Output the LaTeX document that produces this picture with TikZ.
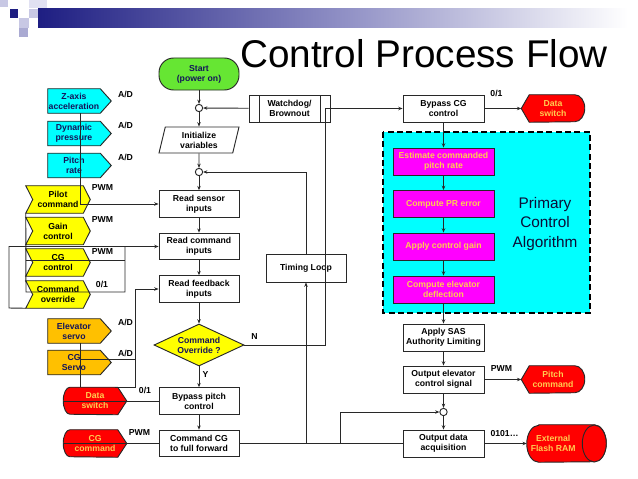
\documentclass[tikz,border=0pt]{standalone}
\usepackage{fontspec}
\setmainfont{Liberation Sans}
\usetikzlibrary{shapes.geometric,arrows.meta,calc}
\pgfdeclarelayer{background}
\pgfsetlayers{background,main}
\definecolor{navy}{RGB}{20,20,90}
\definecolor{startgreen}{RGB}{102,230,51}
\definecolor{servo}{RGB}{255,192,0}
\definecolor{otxt}{RGB}{255,204,80}
\definecolor{bord}{RGB}{40,40,40}
\definecolor{barblue}{RGB}{30,30,130}
\definecolor{barmid}{RGB}{140,140,195}
\definecolor{sqa}{RGB}{200,200,228}
\definecolor{sqb}{RGB}{225,225,242}
\definecolor{sqc}{RGB}{170,170,210}
\definecolor{cya}{RGB}{0,255,255}
\definecolor{mage}{RGB}{255,0,255}
\definecolor{yel}{RGB}{255,255,0}
\definecolor{rd}{RGB}{255,0,0}
\begin{document}
\begin{tikzpicture}[x=0.75pt,y=-0.75pt,
  txt/.style={font=\fontsize{6.5}{7.5}\selectfont\bfseries, align=center, inner sep=0pt},
  proc/.style={txt, draw=bord, fill=white, line width=0.7pt, minimum width=60pt, minimum height=20pt},
  mag/.style={txt, draw=bord, fill=mage, text=otxt, line width=0.7pt, minimum width=75.75pt, minimum height=20.25pt},
  junc/.style={circle, draw=bord, fill=white, line width=0.7pt, minimum size=5.5pt, inner sep=0pt},
  arr/.style={line width=0.7pt, draw=bord, -{Stealth[length=3.2pt,width=2.6pt]}},
  conn/.style={line width=0.7pt, draw=bord},
  lbl/.style={txt, text=black},
  bodytag/.style={txt, text=navy, minimum width=39pt, minimum height=18pt},
  ytag/.style={txt, text=black, minimum width=37.5pt, minimum height=20.25pt},
  rtag/.style={txt, text=otxt, minimum width=47.25pt, minimum height=20.25pt},
  shapeline/.style={draw=bord, line width=0.7pt},
  wdbox/.style={proc, minimum width=60.75pt, minimum height=20.25pt,
    path picture={\draw[line width=0.7pt,bord]
      ([xshift=7.5pt]path picture bounding box.north west) -- ([xshift=7.5pt]path picture bounding box.south west)
      ([xshift=-7.5pt]path picture bounding box.north east) -- ([xshift=-7.5pt]path picture bounding box.south east);}}
]
\useasboundingbox (0,0) rectangle (638,478);

% header decoration
\fill[sqa] (0,0) rectangle (8,7);
\fill[sqb] (29,0) rectangle (47,8);
\fill[barblue] (10,9) rectangle (18,18);
\fill[sqa] (29,9) rectangle (38,18);
\fill[sqa] (19,18) rectangle (29,28);
\fill[sqc] (19,28) rectangle (28,37);
\shade[left color=barblue, right color=white, middle color=barmid] (38,9) rectangle (628,28);

\node[font=\fontsize{29}{32}\selectfont, anchor=base west, inner sep=0pt] (title) at (240,68) {Control Process Flow};

% cyan container
\draw[fill=cya, draw=black, line width=1.4pt, dash pattern=on 4.5pt off 2.5pt] (383,132) rectangle (590,313);

% central column
\node[txt, draw=bord, fill=startgreen, rounded corners=11pt, minimum width=60pt, minimum height=24pt, text=navy, line width=0.7pt] (start) at (199,74) {Start\\(power on)};
\node[junc] (j1) at (199,108) {};
\node[wdbox] (wd) at (289.5,108.5) {Watchdog/\\Brownout};
\node[txt, trapezium, trapezium left angle=69, trapezium right angle=111, trapezium stretches body, draw=bord, fill=white, line width=0.7pt, minimum width=60pt, minimum height=19.5pt] (init) at (199,140) {Initialize\\variables};
\node[junc] (j2) at (199,172) {};
\node[proc] (rs) at (199,204) {Read sensor\\inputs};
\node[proc] (rc) at (199,246.5) {Read command\\inputs};
\node[proc] (rf) at (199,289) {Read feedback\\inputs};
\node[txt, diamond, aspect=2.1, draw=bord, fill=yel, line width=0.7pt, minimum width=67.5pt, minimum height=31.5pt, text=navy] (dia) at (199,345) {Command\\Override ?};
\node[proc] (bp) at (199,401) {Bypass pitch\\control};
\node[proc] (ccg) at (199,443.5) {Command CG\\to full forward};
\node[proc, minimum height=21pt] (tl) at (306,268) {Timing Loop};

% right column
\node[proc, minimum width=60.75pt, minimum height=20.25pt] (bcg) at (443.5,108.5) {Bypass CG\\control};
\node[rtag] (ds1) at (553,108.5) {Data\\switch};
\node[mag] (est) at (443.5,161.5) {Estimate commanded\\pitch rate};
\node[mag] (cpr) at (443.5,204) {Compute PR error};
\node[mag] (acg) at (443.5,246.5) {Apply control gain};
\node[mag] (ced) at (443.5,289.5) {Compute elevator\\deflection};
\node[font=\fontsize{11.5}{14.4}\selectfont, align=center, inner sep=0pt, text=navy!60!black] (pca) at (545,224) {Primary\\Control\\Algorithm};
\node[proc, minimum width=60.75pt, minimum height=20.25pt] (sas) at (443.5,337.5) {Apply SAS\\Authority Limiting};
\node[proc, minimum width=60.75pt, minimum height=20.25pt] (oec) at (443.5,379.5) {Output elevator\\control signal};
\node[junc] (j3) at (443.5,412) {};
\node[proc, minimum width=60.75pt, minimum height=20.25pt] (oda) at (443.5,443.5) {Output data\\acquisition};
\node[rtag] (pc) at (553,379.5) {Pitch\\command};
\node[minimum width=59.25pt, minimum height=27.75pt, inner sep=0pt] (ram) at (566.5,443.5) {};
\node[txt, text=otxt] (ramtxt) at ([xshift=-10pt]ram.center) {External\\Flash RAM};

% left inputs
\node[bodytag] (za) at (74,101) {Z-axis\\acceleration};
\node[bodytag] (dp) at (74,133.5) {Dynamic\\pressure};
\node[bodytag] (pr) at (74,165.5) {Pitch\\rate};
\node[ytag] (pcmd) at (58,199.5) {Pilot\\command};
\node[ytag] (gc) at (58,231) {Gain\\control};
\node[ytag] (cgc) at (58,262.5) {CG\\control};
\node[ytag] (co) at (58,294.5) {Command\\override};
\node[bodytag] (es) at (74,331) {Elevator\\servo};
\node[bodytag] (cgs) at (74,362.5) {CG\\Servo};
\node[rtag] (ds2) at (95,401) {Data\\switch};
\node[rtag] (cgcmd) at (95,443.5) {CG\\command};

% shape outlines behind the texts
\begin{pgfonlayer}{background}
\foreach \n in {za,dp,pr} {
  \path[fill=cya, shapeline] (\n.north west) -- (\n.north east) -- ([xshift=8.25pt]\n.east) -- (\n.south east) -- (\n.south west) -- cycle;
}
\foreach \n in {es,cgs} {
  \path[fill=servo, shapeline] (\n.north west) -- (\n.north east) -- ([xshift=8.25pt]\n.east) -- (\n.south east) -- (\n.south west) -- cycle;
}
\foreach \n in {pcmd,gc,cgc,co} {
  \path[fill=yel, shapeline] ([xshift=-5.25pt]\n.north west) -- (\n.north east) -- ([xshift=5.25pt]\n.east) -- (\n.south east) -- ([xshift=-5.25pt]\n.south west) -- (\n.west) -- cycle;
}
\foreach \n in {ds1,pc} {
  \path[fill=rd, shapeline] (\n.west) -- ([xshift=6pt]\n.north west) -- ([xshift=-7.5pt]\n.north east)
    arc[start angle=90,end angle=-90,x radius=7.5pt,y radius=10.125pt] -- ([xshift=6pt]\n.south west) -- cycle;
}
\foreach \n in {ds2,cgcmd} {
  \path[fill=rd, shapeline] (\n.east) -- ([xshift=-6.75pt]\n.north east) -- ([xshift=5pt]\n.north west)
    arc[start angle=90,end angle=270,x radius=5pt,y radius=10.125pt] -- ([xshift=-6.75pt]\n.south east) -- cycle;
}
\path[fill=rd, shapeline] ([xshift=9pt]ram.north west) -- ([xshift=-9pt]ram.north east)
  arc[start angle=90,end angle=-90,x radius=9pt,y radius=13.875pt] -- ([xshift=9pt]ram.south west)
  arc[start angle=270,end angle=90,x radius=9pt,y radius=13.875pt] -- cycle;
\path[fill=rd, shapeline] ([xshift=-9pt]ram.east) ellipse [x radius=9pt, y radius=13.875pt];
\end{pgfonlayer}

% labels
\node[lbl] (l1) at (125.5,94) {A/D};
\node[lbl] (l2) at (125.5,125) {A/D};
\node[lbl] (l3) at (125.5,157) {A/D};
\node[lbl] (l4) at (102.5,188) {PWM};
\node[lbl] (l5) at (102.5,220) {PWM};
\node[lbl] (l6) at (102.5,252) {PWM};
\node[lbl] (l7) at (102,284) {0/1};
\node[lbl] (l8) at (125.5,322) {A/D};
\node[lbl] (l9) at (125.5,353) {A/D};
\node[lbl] (l10) at (145,390) {0/1};
\node[lbl] (l11) at (139.5,433) {PWM};
\node[lbl] (l12) at (496.5,93) {0/1};
\node[lbl] (l13) at (501.5,369) {PWM};
\node[lbl] (l14) at (504.5,434) {0101\ldots};
\node[lbl] (ly) at (205.5,375) {Y};
\node[lbl] (ln) at (254.5,337) {N};

% central connectors
\draw[arr] (start) -- (j1);
\draw[arr] (j1) -- (init);
\draw[arr] (wd) -- (j1);
\draw[arr] (init) -- (j2);
\draw[arr] (j2) -- (rs);
\draw[arr] (tl.north) |- (j2);
\draw[arr] (rs) -- (rc);
\draw[arr] (rc) -- (rf);
\draw[arr] (rf) -- (dia);
\draw[arr] (dia) -- (bp);
\draw[arr] (bp) -- (ccg);
\coordinate (nx) at (325,0);
\draw[arr] (dia.east) -| (nx |- bcg.west) -- (bcg.west);
\draw[conn] (ccg.east) -- (oda.west);
\draw[arr] (tl.south |- ccg.east) -- (tl.south);
\coordinate (bx) at (340,0);
\draw[arr] (bx |- ccg.east) |- (j3);

% right connectors
\draw[arr] (bcg.east) -- (ds1.west);
\draw[arr] (bcg) -- (est);
\draw[arr] (est) -- (cpr);
\draw[arr] (cpr) -- (acg);
\draw[arr] (acg) -- (ced);
\draw[arr] (ced) -- (sas);
\draw[arr] (sas) -- (oec);
\draw[arr] (oec.east) -- (pc.west);
\draw[arr] (oec) -- (j3);
\draw[arr] (j3) -- (oda);
\draw[arr] (oda.east) -- (ram.west);

% left connectors
\draw[arr] ([xshift=4.5pt]za.south) |- (rs.west);
\coordinate (yl) at ([xshift=-5.25pt]pcmd.south west);
\coordinate (yr) at (125,0);
\coordinate (yb) at (26,292);
\draw[conn] (yl) -- (yb) -- (yb -| yr) -- (yr |- rc.west);
\coordinate (ym) at (26,260);
\draw[conn] (ym) -- (ym -| yr);
\coordinate (ll) at (9,308);
\draw[arr] ([xshift=-5.25pt]co.south west) -- (ll) |- (rc.west);
\draw[conn] ([xshift=4.5pt]es.south) -- ([xshift=4.5pt]es.south |- ds2.north);
\coordinate (fx) at (135,0);
\coordinate (fj) at (80,359);
\draw[conn] (fj) -- (fj -| fx);
\coordinate (dtop) at ([xshift=-9pt]ds2.north east);
\draw[arr] (dtop) -- (fx |- dtop) -- (fx |- rf.west) -- (rf.west);
\draw[conn] (bp.west) -- (ds2.west);
\draw[conn] (ccg.west) -- (cgcmd.west);
\end{tikzpicture}
\end{document}
